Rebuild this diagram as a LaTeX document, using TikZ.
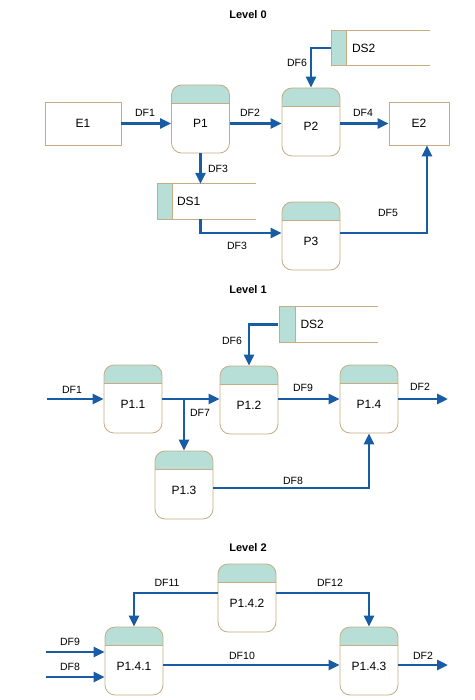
\documentclass[tikz,border=0pt]{standalone}
\usepackage{fontspec}
\setmainfont{Liberation Sans}
\usetikzlibrary{arrows.meta}
\definecolor{flowblue}{RGB}{24,92,164}
\definecolor{headfill}{RGB}{183,223,216}
\definecolor{boxline}{RGB}{196,172,132}
\begin{document}
\begin{tikzpicture}[x=1pt, y=-1pt, line join=miter,
	proc/.style={draw=boxline, fill=white, line width=0.8pt, rounded corners=10pt, minimum width=58pt, minimum height=68pt, inner sep=0pt, text height=18pt, text depth=0pt, font=\fontsize{12}{14}\selectfont,
		path picture={\fill[headfill, sharp corners] (path picture bounding box.north west) rectangle ([yshift=-18pt]path picture bounding box.north east);
			\draw[boxline, line width=0.8pt, sharp corners] ([yshift=-18pt]path picture bounding box.north west) -- ([yshift=-18pt]path picture bounding box.north east);}},
	ent/.style={draw=boxline, fill=white, line width=0.8pt, minimum width=76pt, minimum height=43pt, font=\fontsize{12}{14}\selectfont},
	store/.style={minimum width=98pt, minimum height=35pt, inner sep=0pt, text width=57pt, align=left, font=\fontsize{12}{14}\selectfont},
	storeline/.style={draw=boxline, line width=0.8pt},
	flow/.style={draw=flowblue, line width=2.8pt, -{Triangle[length=11pt, width=10pt]}},
	lbl/.style={font=\fontsize{10.5}{12}\selectfont, inner sep=0pt},
	title/.style={font=\bfseries\fontsize{11}{13}\selectfont}]
	\useasboundingbox (0,0) rectangle (474,700);

	% Level 0
	\node[title] (t0) at (248,15) {Level 0};
	\node[ent] (e1) at (83,123.5) {E1};
	\node[proc] (p1) at (200.5,119) {P1};
	\node[proc] (p2) at (311,122) {P2};
	\node[ent, minimum width=60pt] (e2) at (419,123.5) {E2};
	\node[proc] (p3) at (311,236) {P3};
	\node[store] (ds2) at (380.5,48) {DS2};
	\fill[headfill] (ds2.north west) rectangle ([xshift=15pt]ds2.south west);
	\draw[storeline] (ds2.north east) -- (ds2.north west) -- (ds2.south west) -- (ds2.south east);
	\draw[storeline] ([xshift=15pt]ds2.north west) -- ([xshift=15pt]ds2.south west);
	\node[store, text width=60pt] (ds1) at (207,201.5) {DS1};
	\fill[headfill] (ds1.north west) rectangle ([xshift=15pt]ds1.south west);
	\draw[storeline] (ds1.north east) -- (ds1.north west) -- (ds1.south west) -- (ds1.south east);
	\draw[storeline] ([xshift=15pt]ds1.north west) -- ([xshift=15pt]ds1.south west);

	\draw[flow] (e1.east) -- (e1.east -| p1.west);
	\draw[flow] (p1.east |- e1.east) -- (p2.west |- e1.east);
	\draw[flow] (p2.east |- e1.east) -- (e2.west);
	\draw[flow] (ds2.west) -| (p2.north);
	\draw[flow] (p1.south) -- (p1.south |- ds1.north);
	\draw[flow] (ds1.south -| p1.south) |- ([yshift=3pt]p3.west);
	\draw[flow] ([yshift=3pt]p3.east) -| ([xshift=8pt]e2.south);
	\node[lbl] (l01) at (145,113) {DF1};
	\node[lbl] (l02) at (250,113) {DF2};
	\node[lbl] (l04) at (363,113) {DF4};
	\node[lbl] (l06) at (297,63) {DF6};
	\node[lbl] (l03a) at (218,169) {DF3};
	\node[lbl] (l03b) at (237,246) {DF3};
	\node[lbl] (l05) at (388,213) {DF5};

	% Level 1
	\node[title] (t1) at (248,290) {Level 1};
	\node[proc] (p11) at (133,399) {P1.1};
	\node[proc] (p12) at (249,400) {P1.2};
	\node[proc] (p14) at (369,399) {P1.4};
	\node[proc] (p13) at (184,485) {P1.3};
	\node[store] (ds2b) at (329,324.5) {DS2};
	\fill[headfill] (ds2b.north west) rectangle ([xshift=16pt]ds2b.south west);
	\draw[storeline] (ds2b.north east) -- (ds2b.north west) -- (ds2b.south west) -- (ds2b.south east);
	\draw[storeline] ([xshift=16pt]ds2b.north west) -- ([xshift=16pt]ds2b.south west);
	\coordinate (in1) at (47,399);
	\coordinate (out1) at (448,399);
	\coordinate (br7) at (p13.north |- p11.east);

	\draw[flow] (in1) -- (p11.west);
	\draw[flow] (p11.east) -- (p11.east -| p12.west);
	\draw[flow] (br7) -- (p13.north);
	\draw[flow] (p12.east |- p14.west) -- (p14.west);
	\draw[flow] (p14.east) -- (out1);
	\draw[flow] ([xshift=-2pt]ds2b.west) -| (p12.north);
	\draw[flow] ([yshift=-3pt]p13.east) -| (p14.south);
	\node[lbl] (l11) at (72,390) {DF1};
	\node[lbl] (l17) at (200,413) {DF7};
	\node[lbl] (l19) at (303,388) {DF9};
	\node[lbl] (l12) at (420,387) {DF2};
	\node[lbl] (l16) at (232,341) {DF6};
	\node[lbl] (l18) at (293,481) {DF8};

	% Level 2
	\node[title] (t2) at (248,548) {Level 2};
	\node[proc] (p142) at (247,598) {P1.4.2};
	\node[proc] (p141) at (134,661) {P1.4.1};
	\node[proc] (p143) at (369,661) {P1.4.3};
	\coordinate (in9) at (46,652);
	\coordinate (in8) at (46,677);
	\coordinate (out2) at (448,665);

	\draw[flow] (in9) -- (in9 -| p141.west);
	\draw[flow] (in8) -- (in8 -| p141.west);
	\draw[flow] ([yshift=5pt]p142.west) -| (p141.north);
	\draw[flow] ([yshift=5pt]p142.east) -| (p143.north);
	\draw[flow] ([yshift=-4pt]p141.east) -- ([yshift=-4pt]p143.west);
	\draw[flow] ([yshift=-4pt]p143.east) -- (out2);
	\node[lbl] (l29) at (70,642) {DF9};
	\node[lbl] (l28) at (70,667) {DF8};
	\node[lbl] (l211) at (167,583) {DF11};
	\node[lbl] (l212) at (330,583) {DF12};
	\node[lbl] (l210) at (242,656) {DF10};
	\node[lbl] (l22) at (423,656) {DF2};
\end{tikzpicture}
\end{document}
